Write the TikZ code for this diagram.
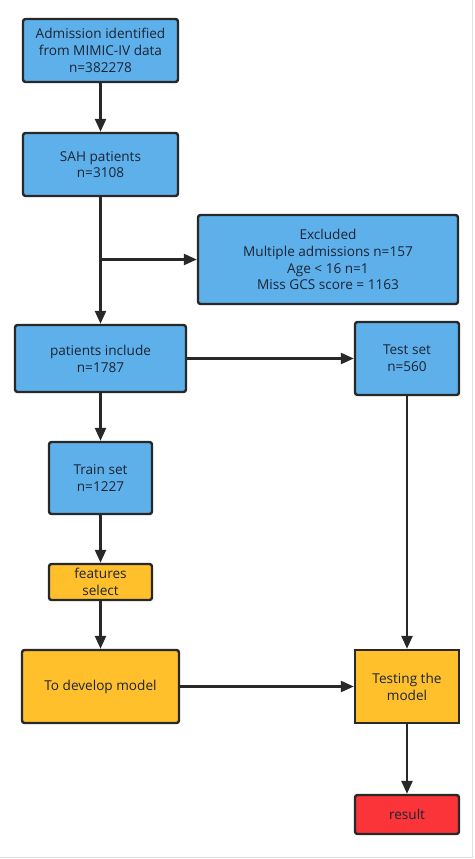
\documentclass[tikz,border=0pt]{standalone}
\usepackage{fontspec}
\setmainfont{Open Sans}
\usetikzlibrary{arrows.meta}
\definecolor{boxblue}{RGB}{94,176,234}
\definecolor{boxyellow}{RGB}{255,192,44}
\definecolor{boxred}{RGB}{250,52,56}
\definecolor{edgegray}{RGB}{40,40,40}
\definecolor{textnavy}{RGB}{28,36,52}
\tikzset{
  flowbox/.style={draw=edgegray, line width=2.4pt, rounded corners=2.5pt, align=center,
    inner sep=0pt, text=textnavy, font=\fontsize{13.6}{16.8}\selectfont},
  bluebox/.style={flowbox, fill=boxblue},
  yellowbox/.style={flowbox, fill=boxyellow},
  redbox/.style={flowbox, fill=boxred},
  flowarrow/.style={draw=edgegray, line width=2.4pt, -{Triangle[length=13pt,width=11pt]}},
}
\begin{document}
\begin{tikzpicture}[x=1pt, y=-1pt]
	  \useasboundingbox (0,0) rectangle (474,859);
	  \draw[gray!25, line width=1pt] (0,857) -- (472,857) -- (472,0);
	  % left column
	  \node[bluebox, minimum width=155pt, minimum height=63pt] (admission) at (100.5,50.5) {Admission identified\\from MIMIC-IV data\\n=382278};
	  \node[bluebox, minimum width=155pt, minimum height=63pt] (sah) at (100.5,164.5) {SAH patients\\n=3108};
	  \node[bluebox, minimum width=260pt, minimum height=89pt] (excluded) at (328,259.5) {Excluded\\Multiple admissions n=157\\Age < 16 n=1\\Miss GCS score = 1163};
	  \node[bluebox, minimum width=171pt, minimum height=67pt] (include) at (100.5,358.5) {patients include\\n=1787};
	  \node[bluebox, minimum width=103pt, minimum height=72pt] (train) at (100.5,478) {Train set\\n=1227};
	  \node[yellowbox, minimum width=103pt, minimum height=36pt] (features) at (100.5,582) {features\\select};
	  \node[yellowbox, minimum width=157pt, minimum height=73pt] (develop) at (100.5,686.5) {To develop model};
	  % right column
	  \node[bluebox, minimum width=104pt, minimum height=73pt] (test) at (407,358.5) {Test set\\n=560};
	  \node[yellowbox, minimum width=104pt, minimum height=73pt, rounded corners=0pt] (testing) at (407,686.5) {Testing the\\model};
	  \node[redbox, minimum width=104pt, minimum height=39pt] (result) at (407,814.5) {result};
	  % connectors
	  \coordinate (branch) at (sah.south |- excluded.west);
	  \draw[flowarrow] (admission) -- (sah);
	  \draw[flowarrow] (sah) -- (include);
	  \draw[flowarrow] (branch) -- (excluded.west);
	  \draw[flowarrow] (include) -- (test);
	  \draw[flowarrow] (include) -- (train);
	  \draw[flowarrow] (train) -- (features);
	  \draw[flowarrow] (features) -- (develop);
	  \draw[flowarrow] (develop) -- (testing);
	  \draw[flowarrow] (test) -- (testing);
	  \draw[flowarrow] (testing) -- (result);
	\end{tikzpicture}
\end{document}
